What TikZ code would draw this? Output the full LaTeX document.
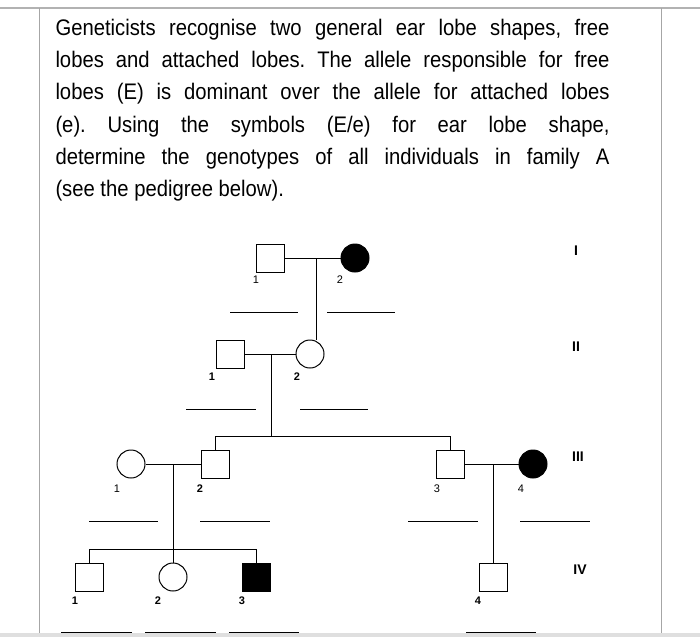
\documentclass[tikz,border=0pt]{standalone}
\usepackage{fontspec}
\setmainfont{Liberation Sans}
\newfontfamily\narrowsans{Liberation Sans}[FakeStretch=0.9]
\begin{document}
\frenchspacing
\begin{tikzpicture}[x=1pt,y=-1pt,line width=1pt,
 sq/.style={draw,minimum size=28pt,inner sep=0pt},
 ci/.style={draw,circle,minimum size=28pt,inner sep=0pt},
 aff/.style={fill=black},
 lab/.style={font=\fontsize{11}{12}\selectfont,inner sep=0pt},
 blab/.style={font=\fontsize{11}{12}\selectfont\bfseries,inner sep=0pt},
 gen/.style={font=\fontsize{14}{15}\selectfont\bfseries,inner sep=0pt},
 txt/.style={anchor=base west,inner sep=0pt,font=\narrowsans\fontsize{22.5}{24}\selectfont},
 blank/.style={line width=0.8pt}]
\useasboundingbox (0,0) rectangle (700,637);
\draw[gray!60,line width=1.5pt] (0,8) -- (700,8);
\draw[gray!70,line width=0.8pt] (39,8) -- (39,637) (661,8) -- (661,637);
\fill[gray!25] (0,633) rectangle (700,637);
% text
\node[txt] (t1) at (55,35) {\makebox[554pt][s]{Geneticists recognise two general ear lobe shapes, free}};
\node[txt] (t2) at (55,67) {\makebox[554pt][s]{lobes and attached lobes. The allele responsible for free}};
\node[txt] (t3) at (55,99) {\makebox[554pt][s]{lobes (E) is dominant over the allele for attached lobes}};
\node[txt] (t4) at (55,132) {\makebox[554pt][s]{(e). Using the symbols (E/e) for ear lobe shape,}};
\node[txt] (t5) at (55,164) {\makebox[554pt][s]{determine the genotypes of all individuals in family A}};
\node[txt] (t6) at (55,196) {(see the pedigree below).};
% gen I
\node[sq] (I1) at (270,258) {};
\node[ci,aff] (I2) at (355,258) {};
\coordinate (m1) at (316,258);
\draw (I1) -- (I2);
\node[lab] at (256,280) {1}; \node[lab] at (340,280) {2};
% gen II
\node[sq] (II1) at (230,354) {};
\node[ci] (II2) at (310,354) {};
\coordinate (m2) at (271,354);
\draw (m1) -- (m1 |- II2.north);
\draw (II1) -- (II2);
\node[blab] at (212,377) {1}; \node[blab] at (297,377) {2};
% gen III
\node[ci] (III1) at (131,464) {};
\node[sq] (III2) at (215,464) {};
\node[sq] (III3) at (450,464) {};
\node[ci,aff] (III4) at (533,464) {};
\coordinate (s3) at (271,436);
\draw (m2) -- (s3);
\draw (III2.north) -- (III2.north |- s3) -- (III3.north |- s3) -- (III3.north);
\draw (III1) -- (III2);
\draw (III3) -- (III4);
\node[lab] at (117,489) {1}; \node[blab] at (200,489) {2};
\node[lab] at (437,489) {3}; \node[lab] at (521,489) {4};
% gen IV
\node[sq] (IV1) at (89,577) {};
\node[ci] (IV2) at (173,577) {};
\node[sq,aff] (IV3) at (256,577) {};
\node[sq] (IV4) at (493,577) {};
\coordinate (m3) at (173,464);
\coordinate (s4) at (173,549);
\coordinate (m4) at (493,464);
\draw (m3) -- (IV2.north);
\draw (IV1.north) -- (IV1.north |- s4) -- (IV3.north |- s4) -- (IV3.north);
\draw (m4) -- (IV4.north);
\node[blab] at (75,601) {1}; \node[blab] at (158,601) {2};
\node[blab] at (242,601) {3}; \node[blab] at (478,601) {4};
% blanks
\draw[blank] (230,312) -- (298,312) (327,312) -- (395,312);
\draw[blank] (186,409) -- (256,409) (300,409) -- (368,409);
\draw[blank] (89,521) -- (158,521) (200,521) -- (270,521) (408,521) -- (478,521) (520,521) -- (590,521);
\draw[blank] (61,632) -- (132,632) (145,632) -- (216,632) (229,632) -- (299,632) (466,632) -- (536,632);
% generation labels
\node[gen] at (576,251) {I};
\node[gen] at (576,347) {II};
\node[gen] at (578,457) {III};
\node[gen] at (580,570) {IV};
\end{tikzpicture}
\end{document}
